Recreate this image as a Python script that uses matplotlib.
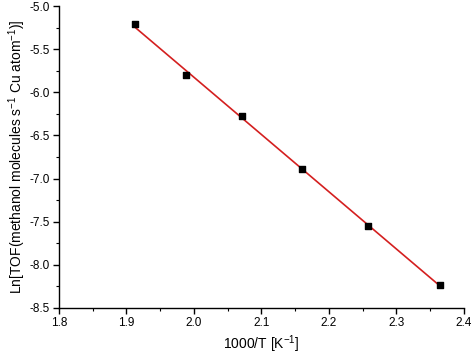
import matplotlib
matplotlib.use("Agg")
import matplotlib.pyplot as plt
import numpy as np
from matplotlib.ticker import MultipleLocator, FormatStrFormatter

x_vals = [1.912, 1.988, 2.071, 2.160, 2.258, 2.364]
y_vals = [-5.21, -5.80, -6.27, -6.89, -7.55, -8.23]

plt.rcParams['font.family'] = ['Liberation Sans', 'DejaVu Sans']
plt.rcParams['mathtext.fontset'] = 'custom'
plt.rcParams['mathtext.rm'] = 'Liberation Sans'
plt.rcParams['mathtext.it'] = 'Liberation Sans:italic'

fig = plt.figure(figsize=(4.74, 3.56), dpi=100)
ax = fig.add_axes([0.1245, 0.135, 0.854, 0.848])

coef = np.polyfit(x_vals, y_vals, 1)
xf = np.array([min(x_vals), max(x_vals)])
ax.plot(xf, np.polyval(coef, xf), color='#d41f1f', lw=1.2, zorder=2)
ax.scatter(x_vals, y_vals, marker='s', s=22, color='black', zorder=3)

ax.set_xlim(1.8, 2.4)
ax.set_ylim(-8.5, -5.0)
ax.xaxis.set_major_locator(MultipleLocator(0.1))
ax.xaxis.set_minor_locator(MultipleLocator(0.05))
ax.yaxis.set_major_locator(MultipleLocator(0.5))
ax.yaxis.set_minor_locator(MultipleLocator(0.25))
ax.xaxis.set_major_formatter(FormatStrFormatter('%.1f'))
ax.yaxis.set_major_formatter(FormatStrFormatter('%.1f'))

for s in ['top', 'right']:
    ax.spines[s].set_visible(False)
for s in ['left', 'bottom']:
    ax.spines[s].set_linewidth(1.0)

ax.tick_params(which='major', direction='out', length=4, width=1, labelsize=8.5, pad=2.5)
ax.tick_params(which='minor', direction='out', length=2.5, width=0.8)

ax.set_xlabel('1000/T [K$^{\\mathrm{-1}}$]', fontsize=10, labelpad=3)
ax.set_ylabel('Ln[TOF(methanol molecules s$^{\\mathrm{-1}}$ Cu atom$^{\\mathrm{-1}}$)]', fontsize=10, labelpad=1)

fig.savefig('out.png', dpi=100)
